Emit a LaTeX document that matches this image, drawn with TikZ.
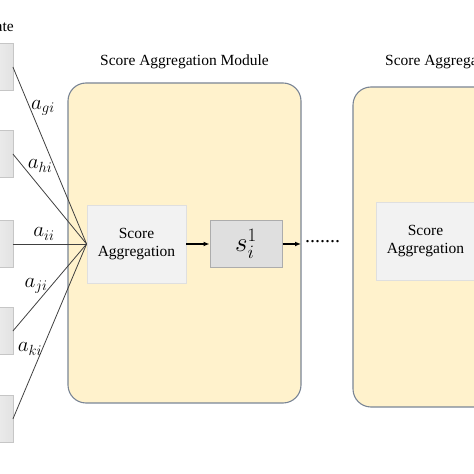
\RequirePackage{fix-cm}
\documentclass[tikz,border=0pt]{standalone}
\usepackage{fontspec}
\setmainfont{Liberation Serif}
\usepackage{tikz}
\usetikzlibrary{positioning}
\usetikzlibrary{arrows.meta}
\definecolor{modfill}{HTML}{FFF2CC}
\definecolor{modline}{HTML}{7A8595}
\tikzstyle{txt}=[font=\fontsize{15.5}{18}\selectfont, inner sep=2pt]
\tikzstyle{inbox}=[rectangle,draw=gray!45,left color=gray!8,right color=gray!22,minimum width=34pt,minimum height=47pt,inner sep=0pt]
\tikzstyle{module}=[rectangle,rounded corners=18pt,draw=modline,line width=1.1pt,fill=modfill,minimum width=233pt,minimum height=320pt]
\tikzstyle{aggbox}=[rectangle,draw=gray!25,fill=gray!10,line width=0.8pt,minimum width=99pt,minimum height=78pt,align=center,txt]
\tikzstyle{sbox}=[rectangle,draw=gray!65,fill=gray!25,line width=1pt,minimum width=72pt,minimum height=47pt,font=\fontsize{27}{30}\selectfont]
\tikzstyle{edge} = [draw,line width=0.8pt,black!75]
\tikzstyle{arrow} = [draw,line width=1.2pt,-{Latex[length=6pt,width=5pt]}]
\tikzstyle{weight} = [font=\fontsize{21}{24}\selectfont, inner sep=0pt]

\begin{document}
\begin{tikzpicture}[x=1pt,y=1pt]

  \useasboundingbox (0,0) rectangle (474,474);
  \clip (0,0) rectangle (474,474);

  \node[txt, anchor=east] (upd) at (16,447) {ate};

  \foreach \y/\name in {407/g, 320/h, 230/i, 143/j, 55/k}
     \node[inbox] (\name) at (-4.3,\y) {};

  % the two modules
  \node[module] (modA) at (184.5,231) {};
  \node[module] (modB) at (469.5,227) {};
  \node[txt] (titA) at (184.5,412) {Score Aggregation Module};
  \node[txt] (titB) at (469.5,412) {Score Aggregation Module};

  \node[aggbox] (aggA) at (136.5,230) {Score\\Aggregation};
  \node[sbox] (s1) at (246,230) {$s_i^1$};
  \node[aggbox] (aggB) at (425.5,232.5) {Score\\Aggregation};

  \foreach \name in {g,h,i,j,k}
     \draw[edge] (\name.east) -- (aggA.west);

  \foreach \x/\y/\label in {43/366/a_{gi}, 40/308/a_{hi}, 44/240/a_{ii}, 36/188/a_{ji}, 30/125/a_{ki}}
     \node[weight] at (\x,\y) {$\label$};

  \draw[arrow] (aggA) -- (s1);
  \coordinate (send) at (301,230);
  \draw[arrow] (s1) -- (send);
  \node[font=\fontsize{20}{22}\selectfont, anchor=west, inner sep=0pt] (dots) at (305,232) {.......};

\end{tikzpicture}
\end{document}
